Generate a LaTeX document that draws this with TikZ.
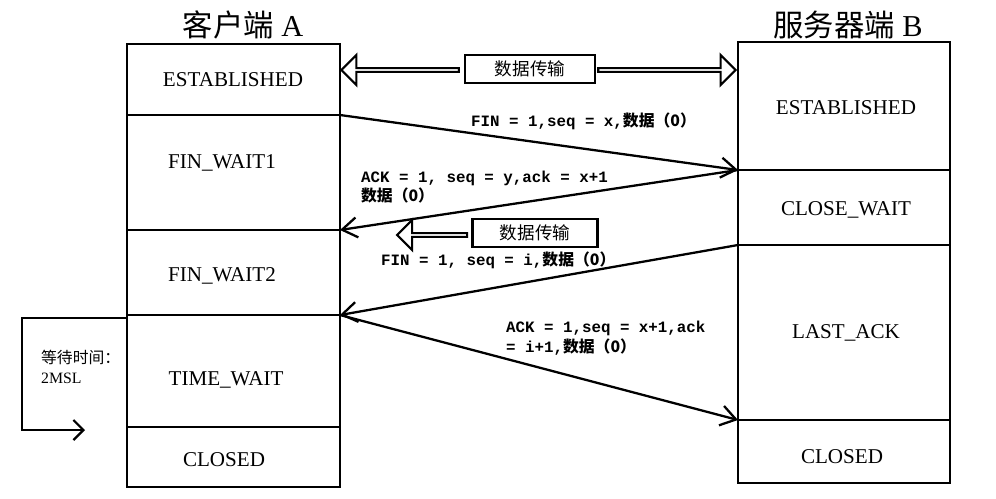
\documentclass[tikz,border=0pt]{standalone}
\usepackage{fontspec}
\setmainfont{Liberation Serif}
\newfontfamily\cjk{Noto Sans CJK SC}
\newfontfamily\lbl{Liberation Mono}
\usetikzlibrary{arrows.meta, shapes.arrows}

\begin{document}
\begin{tikzpicture}[x=0.02cm,y=-0.02cm,line width=1.3pt,
    state/.style={font=\large},
    msg/.style={font=\lbl\small\bfseries,align=left,anchor=west,inner sep=0pt},
    tip/.style={-{Straight Barb[length=3mm,width=4mm]}},
    hollow/.style={draw,single arrow,minimum height=#1,single arrow head extend=1.5mm,
      minimum width=6mm,inner sep=0pt,line width=1.2pt}]
  \useasboundingbox (0,0) rectangle (996,498);

  % titles
  \node (ta) at (243,25) {\LARGE{\cjk 客户端} A};
  \node (tb) at (848,25) {\LARGE{\cjk 服务器端} B};

  % client column
  \draw (127,44) rectangle (340,487);
  \foreach \y in {115,230,315,427}
    \draw (127,\y) -- (340,\y);
  \node [state] (a1) at (233,80)  {ESTABLISHED};
  \node [state] (a2) at (222,163) {FIN\_WAIT1};
  \node [state] (a3) at (222,276) {FIN\_WAIT2};
  \node [state] (a4) at (226,380) {TIME\_WAIT};
  \node [state] (a5) at (224,460) {CLOSED};

  % server column
  \draw (738,42) rectangle (950,483);
  \foreach \y in {170,245,420}
    \draw (738,\y) -- (950,\y);
  \node [state] (b1) at (846,108) {ESTABLISHED};
  \node [state] (b2) at (846,210) {CLOSE\_WAIT};
  \node [state] (b3) at (846,333) {LAST\_ACK};
  \node [state] (b4) at (842,457) {CLOSED};

  % end points of the messages
  \coordinate (pa1) at (340,115);
  \coordinate (pa2) at (340,230);
  \coordinate (pa3) at (340,315);
  \coordinate (pb1) at (738,170);
  \coordinate (pb2) at (738,245);
  \coordinate (pb3) at (738,420);

  \draw [tip] (pa1) -- (pb1);
  \draw [tip] (pb1) -- (pa2);
  \draw [tip] (pb2) -- (pa3);
  \draw [tip] (pa3) -- (pb3);

  \node [msg] (m1) at (470,121) {FIN = 1,seq = x,{\cjk 数据（0）}};
  \node [msg] (m2) at (360,187) {ACK = 1, seq = y,ack = x+1\\{\cjk 数据（0）}};
  \node [msg] (m3) at (380,260) {FIN = 1, seq = i,{\cjk 数据（0）}};
  \node [msg] (m4) at (505,338) {ACK = 1,seq = x+1,ack\\= i+1,{\cjk 数据（0）}};

  % data transfer
  \node [draw,line width=1.2pt,minimum width=2.6cm,minimum height=5.6mm] (d1) at (530,69) {\cjk 数据传输};
  \node [hollow=2.35cm,shape border rotate=180] (h1) at (401,70) {};
  \node [hollow=2.75cm] (h2) at (666,70) {};
  \node [draw,line width=1.2pt,minimum width=2.5cm,minimum height=5.2mm] (d2) at (535,233) {\cjk 数据传输};
  \node [hollow=1.4cm,shape border rotate=180] (h3) at (433,235) {};

  % waiting time
  \coordinate (w1) at (127,318);
  \coordinate (w2) at (85,430);
  \draw [-{Straight Barb[length=2mm,width=4mm]}] (w1) -- (22,318) -- (22,430) -- (w2);
  \node [font=\small,align=left,anchor=west,inner sep=0pt] (w) at (40,367) {{\cjk 等待时间：}\\2MSL};
\end{tikzpicture}
\end{document}
